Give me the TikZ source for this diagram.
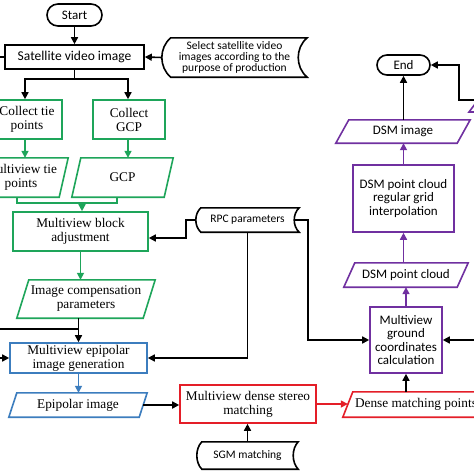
\documentclass[tikz,border=0pt]{standalone}
\usepackage{fontspec}
\setmainfont{Liberation Serif}
\newfontfamily\calfont{Carlito}
\usetikzlibrary{arrows.meta,calc}
\definecolor{cgreen}{RGB}{30,165,90}
\definecolor{cblue}{RGB}{60,125,190}
\definecolor{cred}{RGB}{228,30,40}
\definecolor{cpurple}{RGB}{112,48,160}
\tikzset{
  lw/.style={line width=1.6pt},
  box/.style={lw, draw, inner sep=0pt, align=center},
  pnode/.style={inner sep=0pt, align=center},
  ser/.style={font=\fontsize{13.3}{14}\selectfont},
  sbig/.style={font=\calfont\fontsize{13}{13.5}\selectfont},
  ssmall/.style={font=\calfont\fontsize{11.5}{11}\selectfont},
  conn/.style={lw, black},
  arr/.style={lw, black, -{Triangle[length=7pt,width=7pt]}},
  gconn/.style={lw, cgreen},
  garr/.style={lw, cgreen, -{Triangle[length=7pt,width=7pt]}},
  barr/.style={lw, cblue, -{Triangle[length=7pt,width=7pt]}},
  rarr/.style={lw, cred, -{Triangle[length=7pt,width=7pt]}},
  parr/.style={lw, cpurple, -{Triangle[length=7pt,width=7pt]}},
}
\newcommand\para[3]{\draw[lw,#2] ([xshift=#3pt]#1.north west) -- (#1.north east) -- ([xshift=-#3pt]#1.south east) -- (#1.south west) -- cycle;}
\newcommand\stor[2]{\draw[lw] ([xshift=#2pt]#1.north west) -- (#1.north east)
  .. controls ($(#1.north east)!0.25!(#1.south east)+(-1.33*#2,0)$) and ($(#1.north east)!0.75!(#1.south east)+(-1.33*#2,0)$) .. (#1.south east)
  -- ([xshift=#2pt]#1.south west)
  .. controls ($([xshift=#2pt]#1.south west)!0.25!([xshift=#2pt]#1.north west)+(-1.33*#2,0)$) and ($([xshift=#2pt]#1.south west)!0.75!([xshift=#2pt]#1.north west)+(-1.33*#2,0)$) .. ([xshift=#2pt]#1.north west) -- cycle;}
\begin{document}
\begin{tikzpicture}[x=1pt,y=-1pt]
\useasboundingbox (0,0) rectangle (474,474);
\fill[white] (0,0) rectangle (474,474);

% left column
\node[box, sbig, rounded corners=11pt, minimum width=55pt, minimum height=22pt] (start) at (74.5,15) {Start};
\node[box, sbig, font=\calfont\fontsize{13.5}{14}\selectfont, minimum width=139pt, minimum height=24pt] (sat) at (74.5,57) {Satellite video image};
\node[pnode, ssmall, minimum width=145pt, minimum height=39pt] (select) at (234.5,57.5) {Select satellite video\\images according to the\\purpose of production};
\stor{select}{9}
\node[box, ser, draw=cgreen, minimum width=70pt, minimum height=39pt] (ctie) at (27,119.5) {Collect tie\\points};
\node[box, ser, draw=cgreen, minimum width=72pt, minimum height=39pt] (cgcp) at (129,119.5) {Collect\\GCP};
\node[pnode, ser, minimum width=94pt, minimum height=39pt] (mtie) at (21,177.5) {Multiview tie\\points};
\para{mtie}{cgreen}{9}
\node[pnode, ser, minimum width=101pt, minimum height=39pt] (gcp) at (122.5,177.5) {GCP};
\para{gcp}{cgreen}{9}
\node[box, ser, draw=cgreen, minimum width=135pt, minimum height=39pt] (block) at (80.5,231.5) {Multiview block\\adjustment};
\node[pnode, ssmall, minimum width=103pt, minimum height=24pt] (rpc) at (247.5,220) {RPC parameters};
\stor{rpc}{5}
\node[pnode, ser, minimum width=138pt, minimum height=38pt] (comp) at (86,299) {Image compensation\\parameters};
\para{comp}{cgreen}{12}
\node[box, ser, draw=cblue, minimum width=137pt, minimum height=30pt] (epigen) at (78.5,358) {Multiview epipolar\\image generation};
\node[pnode, ser, minimum width=138pt, minimum height=24pt] (epi) at (78,405) {Epipolar image};
\para{epi}{cblue}{8}
\node[box, ser, draw=cred, minimum width=136pt, minimum height=38pt] (dense) at (248,404) {Multiview dense stereo\\matching};
\node[pnode, ssmall, minimum width=101pt, minimum height=27pt] (sgm) at (247.5,455.5) {SGM matching};
\stor{sgm}{5}
\node[pnode, ser, minimum width=146pt, minimum height=25pt] (dmp) at (416,404.5) {Dense matching points};
\para{dmp}{cred}{10}

% right column
\node[box, sbig, draw=cpurple, minimum width=72pt, minimum height=66pt] (ground) at (406,340) {Multiview\\ground\\coordinates\\calculation};
\node[pnode, sbig, minimum width=124pt, minimum height=24pt] (dsmpc) at (406,275) {DSM point cloud};
\para{dsmpc}{cpurple}{11}
\node[box, sbig, draw=cpurple, minimum width=101pt, minimum height=67pt] (interp) at (403.5,198.5) {DSM point cloud\\regular grid\\interpolation};
\node[pnode, sbig, minimum width=134pt, minimum height=23pt] (dsmimg) at (403,131.5) {DSM image};
\para{dsmimg}{cpurple}{13}
\node[box, sbig, rounded corners=10pt, minimum width=53pt, minimum height=20pt] (end) at (403.5,65) {End};
\draw[lw,cpurple] (475,104) -- (469,112) -- (480,112);

% connectors
\draw[arr] (start.south) -- (sat.north);
\draw[arr] (select.west) -- (sat.east);
\coordinate (L1) at (0,57);
\draw[conn] (L1) -- (sat.west);
\coordinate (br) at (74.5,79);
\draw[conn] (sat.south) -- (br);
\draw[arr] (br) -| ([xshift=-2pt]ctie.north);
\draw[arr] (br) -| ([xshift=-1pt]cgcp.north);
\draw[garr] ([xshift=-2pt]ctie.south) -- ([xshift=-2pt]ctie.south |- mtie.north);
\draw[garr] ([xshift=-1pt]cgcp.south) -- ([xshift=-1pt]cgcp.south |- gcp.north);
\coordinate (j) at (82,203);
\draw[gconn] ([xshift=-4pt]mtie.south) |- (j) -| ([xshift=-5.5pt]gcp.south);
\draw[garr] (j) -- (j |- block.north);
\draw[arr] (rpc.west) -- ++(-10,0) |- ([yshift=-6.5pt]block.east);
\draw[arr] (rpc.south) |- (epigen.east);
\draw[arr] ([xshift=-5pt]rpc.east) -- ++(14,0) |- (ground.west);
\draw[garr] (block.south) -- (block.south |- comp.north);
\draw[arr] (epigen.north |- comp.south) -- (epigen.north);
\coordinate (L2) at (0,329);
\draw[conn] (L2) -- (L2 -| epigen.north);
\coordinate (L3) at (0,358);
\draw[arr] (L3) -- (epigen.west);
\draw[barr] (epigen.south) -- (epigen.south |- epi.north);
\draw[arr] ([xshift=-4pt]epi.east) -- (dense.west |- epi.east);
\draw[arr] (sgm.north) -- (sgm.north |- dense.south);
\draw[rarr] (dense.east) -- ([xshift=5pt]dmp.west |- dense.east);
\draw[arr] (ground.south |- dmp.north) -- (ground.south);
\coordinate (R1) at (474,340);
\draw[arr] (R1) -- (ground.east);
\draw[parr] (ground.north) -- (ground.north |- dsmpc.south);
\draw[parr] (interp.south |- dsmpc.north) -- (interp.south);
\draw[parr] (interp.north) -- (interp.north |- dsmimg.south);
\draw[arr] (end.south |- dsmimg.north) -- (end.south);
\coordinate (R2) at (474,100);
\draw[arr] (R2) -- ++(-15,0) |- (end.east);
\end{tikzpicture}
\end{document}
